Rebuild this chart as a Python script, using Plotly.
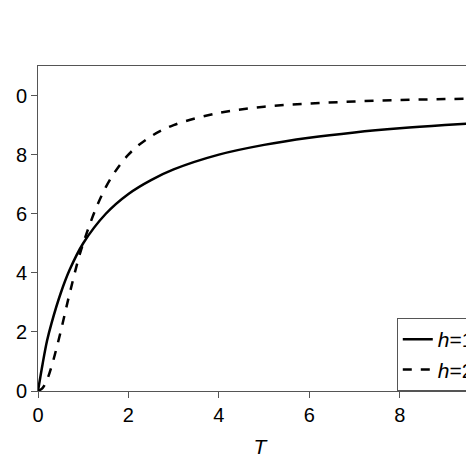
import plotly.graph_objects as go

# values
t_vals = [0, 0.1, 0.2, 0.3, 0.5, 0.7, 1, 1.5, 2, 2.5, 3, 4, 5, 6, 7, 8, 9, 10]
h1_vals = [0, 0.09, 0.17, 0.23, 0.33, 0.41, 0.5, 0.6, 0.667, 0.714, 0.75,
           0.8, 0.833, 0.857, 0.875, 0.889, 0.9, 0.909]
h2_vals = [0, 0.01, 0.038, 0.083, 0.2, 0.33, 0.5, 0.69, 0.8, 0.862, 0.9,
           0.941, 0.962, 0.973, 0.98, 0.985, 0.988, 0.99]

y_ticks = [0, 0.2, 0.4, 0.6, 0.8, 1.0]
y_ticktext = ["0", "2", "4", "6", "8", "0"]  # left part cropped in the source
x_ticks = [0, 2, 4, 6, 8]

fig = go.Figure()
fig.add_trace(go.Scatter(x=t_vals, y=h1_vals, mode="lines", name="<i>h</i>=1",
                         line=dict(color="black", width=2.5, shape="spline")))
fig.add_trace(go.Scatter(x=t_vals, y=h2_vals, mode="lines", name="<i>h</i>=2",
                         line=dict(color="black", width=2.5, dash="dash", shape="spline")))

fig.update_layout(
    width=474, height=474,
    margin=dict(l=30, r=0, t=58, b=91, autoexpand=False),
    paper_bgcolor="white", plot_bgcolor="white",
    font=dict(family="Liberation Sans, Arial", size=20, color="black"),
    legend=dict(x=0.995, y=0.0, xanchor="right", yanchor="bottom",
                bordercolor="#555", borderwidth=1, bgcolor="white",
                font=dict(size=21), tracegroupgap=0),
)
fig.update_xaxes(range=[0, 9.82], tickvals=x_ticks, ticks="outside", ticklen=6,
                 tickcolor="#555", showline=True, linecolor="#555", linewidth=1,
                 showgrid=False, zeroline=False, mirror=True, automargin=False,
                 title=dict(text="<i>T</i>", font=dict(size=21), standoff=14))
fig.update_yaxes(range=[0, 1.1], tickvals=y_ticks, ticktext=y_ticktext,
                 ticks="outside", ticklen=6, tickcolor="#555", mirror=True,
                 showline=True, linecolor="#555", linewidth=1, automargin=False,
                 showgrid=False, zeroline=False)

fig.write_html("out.html")
